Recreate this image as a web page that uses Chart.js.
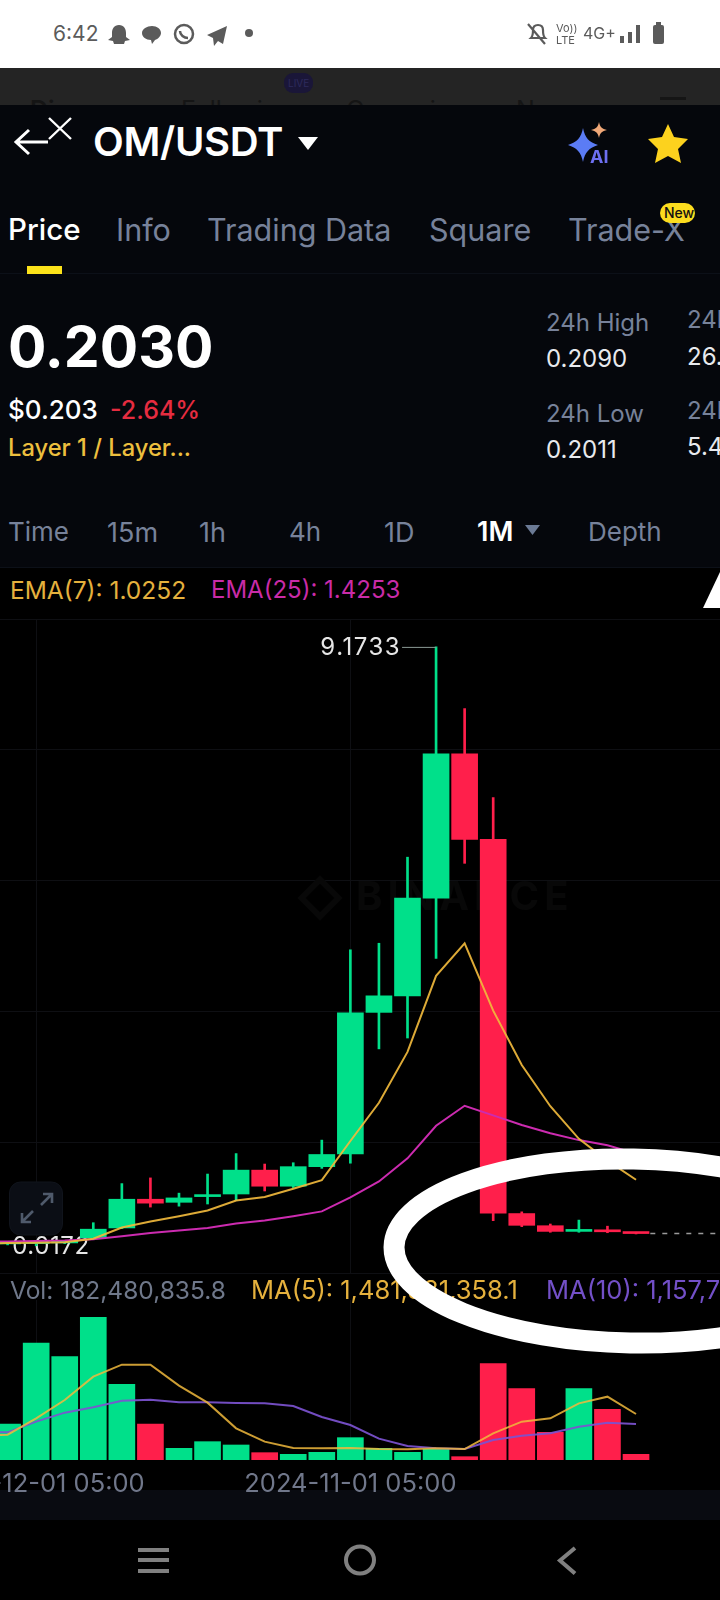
<!DOCTYPE html>
<html>
<head>
<meta charset="utf-8">
<title>OM/USDT</title>
<script src="https://cdn.jsdelivr.net/npm/chart.js@4"></script>
<style>
html, body { margin: 0; padding: 0; background: #000; }
#page { position: relative; width: 720px; height: 1600px; overflow: hidden; background: #000; font-family: Inter, sans-serif; }
.box { position: absolute; left: 0; width: 720px; }
.t { position: absolute; white-space: nowrap; transform: translateY(-50%); line-height: 1; }
.gray { color: #77829a; }
canvas { position: absolute; left: 0; display: block; }
svg { position: absolute; left: 0; top: 0; }
</style>
</head>
<body>
<div id="page">
  <div class="box" style="top:0;height:68px;background:#fff"></div>
  <div class="box" style="top:68px;height:37px;background:#242424;overflow:hidden">
    <span class="t" style="left:30px;top:42px;font-size:25px;color:#151515;font-weight:600">Discover</span>
    <span class="t" style="left:181px;top:42px;font-size:25px;color:#151515">Following</span>
    <span class="t" style="left:346px;top:42px;font-size:25px;color:#151515">Campaign</span>
    <span class="t" style="left:516px;top:42px;font-size:25px;color:#151515">News</span>
    <span class="t" style="left:284px;top:15px;font-size:10px;padding:5px 4px;border-radius:9px;background:#1a1638;color:#2d2a5c">LIVE</span>
    <div style="position:absolute;left:660px;top:29px;width:26px;height:3px;background:#151515"></div>
  </div>
  <div class="box" style="top:105px;height:463px;background:#05070c"></div>
  <div class="box" style="top:273px;height:1px;background:#0c1018"></div>
  <div class="box" style="top:567px;height:1px;background:#0c1018"></div>
  <div class="box" style="top:1490px;height:30px;background:#090b11"></div>

  <span class="t" style="left:53px;top:33px;font-size:21px;color:#5b5b5b">6:42</span>

  <span class="t" style="left:93px;top:142px;font-size:40px;font-weight:600;color:#fff;letter-spacing:-.3px">OM/USDT</span>

  <span class="t" style="left:8px;top:230px;font-size:29.5px;color:#fff;font-weight:500">Price</span>
  <span class="t gray" style="left:116px;top:230px;font-size:30.5px">Info</span>
  <span class="t gray" style="left:207px;top:230px;font-size:30.5px">Trading Data</span>
  <span class="t gray" style="left:429px;top:230px;font-size:30.5px">Square</span>
  <span class="t gray" style="left:568px;top:230px;font-size:30.5px">Trade-X</span>
  <div style="position:absolute;left:660px;top:203px;width:35px;height:20px;border-radius:10px;background:#fcdc1e"></div>
  <span class="t" style="left:664px;top:213px;font-size:14px;color:#111;font-weight:500">New</span>
  <div style="position:absolute;left:27px;top:266px;width:35px;height:8px;background:#fce21a"></div>

  <span class="t" style="left:8px;top:346px;font-size:57px;font-weight:700;color:#fff">0.2030</span>
  <span class="t" style="left:8px;top:410px;font-size:26px;color:#fff;font-weight:500">$0.203</span>
  <span class="t" style="left:110px;top:410px;font-size:25px;color:#e62c40;font-weight:500">-2.64%</span>
  <span class="t" style="left:8px;top:448px;font-size:23.7px;color:#edbf3e;font-weight:500">Layer 1 / Layer...</span>

  <span class="t gray" style="left:546px;top:323px;font-size:24px">24h High</span>
  <span class="t" style="left:546px;top:359px;font-size:24px;color:#e8eaee">0.2090</span>
  <span class="t gray" style="left:546px;top:414px;font-size:24px">24h Low</span>
  <span class="t" style="left:546px;top:450px;font-size:24px;color:#e8eaee">0.2011</span>
  <span class="t gray" style="left:687px;top:320px;font-size:24px">24h</span>
  <span class="t" style="left:687px;top:357px;font-size:24px;color:#e8eaee">26.</span>
  <span class="t gray" style="left:687px;top:411px;font-size:24px">24h</span>
  <span class="t" style="left:687px;top:447px;font-size:24px;color:#e8eaee">5.4</span>

  <span class="t gray" style="left:8px;top:532px;font-size:26px">Time</span>
  <span class="t gray" style="left:107px;top:532px;font-size:27px">15m</span>
  <span class="t gray" style="left:199px;top:532px;font-size:27px">1h</span>
  <span class="t gray" style="left:289px;top:532px;font-size:26px">4h</span>
  <span class="t gray" style="left:384px;top:532px;font-size:27px">1D</span>
  <span class="t" style="left:477px;top:531px;font-size:27px;color:#fff;font-weight:600">1M</span>
  <span class="t gray" style="left:588px;top:532px;font-size:26px">Depth</span>

  <canvas id="priceChart" width="720" height="674" style="top:609px"></canvas>
  <canvas id="volChart" width="820" height="200" style="top:1300px;left:-100px"></canvas>

  <span class="t" style="left:10px;top:590px;font-size:24.5px;color:#e5b13d">EMA(7): 1.0252</span>
  <span class="t" style="left:211px;top:590px;font-size:24px;color:#c92ba8">EMA(25): 1.4253</span>
  <span class="t" style="left:10px;top:1290px;font-size:24.5px;color:#6f788a">Vol: 182,480,835.8</span>
  <span class="t" style="left:251px;top:1290px;font-size:25.5px;color:#e5b13d">MA(5): 1,481,381,358.1</span>
  <span class="t" style="left:546px;top:1290px;font-size:25.5px;color:#7350c8">MA(10): 1,157,7</span>

  <svg width="720" height="1600" viewBox="0 0 720 1600" fill="none">
    <!-- status bar icons -->
    <g fill="#5b5b5b">
      <path d="M119 25c-5 0-7 4-7 8v4l-4 3 5 1 1 3h10l1-3 5-1-4-3v-4c0-4-2-8-7-8z"/>
      <path d="M152 26c5 0 9 3 9 7 0 3-3 6-6 7l-3 4-1-4c-5 0-9-3-9-7s5-7 10-7z"/>
      <path d="M227 26l-20 9 6 3 1 8 4-5 5 3z"/>
      <circle cx="249" cy="33" r="4"/>
      <rect x="653" y="25" width="11" height="19" rx="2"/>
      <rect x="656" y="22" width="5" height="3"/>
      <rect x="620" y="36" width="4" height="7"/>
      <rect x="628" y="32" width="4" height="11"/>
      <rect x="636" y="25" width="4" height="18"/>
    </g>
    <circle cx="184" cy="34" r="9" stroke="#5b5b5b" stroke-width="2.5"/>
    <path d="M180 31c0 4 4 7 8 7" stroke="#5b5b5b" stroke-width="2.5"/>
    <path d="M531 38c2-2 2-4 2-8 0-3 2-5 5-5s5 2 5 5c0 4 0 6 2 8zM528 24l17 20" stroke="#5b5b5b" stroke-width="2.2"/>
    <text x="556" y="32" font-family="Inter" font-size="11" fill="#5b5b5b">Vo))</text>
    <text x="556" y="44" font-family="Inter" font-size="11" fill="#5b5b5b">LTE</text>
    <text x="583" y="39" font-family="Inter" font-size="16" fill="#5b5b5b">4G+</text>
    <!-- app bar icons -->
    <path d="M48 142H17M29 130L16 142l13 12" stroke="#fff" stroke-width="3"/>
    <path d="M49 118l22 21M71 118L49 139" stroke="#fff" stroke-width="2.4"/>
    <path d="M298 137h20l-10 13z" fill="#fff"/>
    <path d="M583 128c2 10 6 14 15 17-9 3-13 7-15 17-2-10-6-14-15-17 9-3 13-7 15-17z" fill="#5b7cf5"/>
    <path d="M599 122c1 5 3 7 8 8-5 1-7 3-8 8-1-5-3-7-8-8 5-1 7-3 8-8z" fill="#f0a878"/>
    <text x="590" y="163" font-family="Inter" font-size="18" font-weight="700" fill="#6d6ff0">AI</text>
    <path d="M668 124l6 13 14 2-10 10 3 14-13-7-13 7 3-14-10-10 14-2z" fill="#fcd21e"/>
    <path d="M525 525h15l-7.500 10z" fill="#6b7a95"/>
    <path d="M703 608l17-36v36z" fill="#fff"/>
    <!-- expand button -->
    <rect x="9.500" y="1182" width="53" height="53" rx="11" fill="#0b0e15" stroke="#10141c"/>
    <path d="M43 1194h9v9M52 1194l-11 11M31 1222h-9v-9M22 1222l11-11" stroke="#4f5a6b" stroke-width="2.6"/>
    <!-- hand drawn ring -->
    <ellipse cx="632" cy="1251" rx="238" ry="92" stroke="#fff" stroke-width="21" transform="rotate(1 632 1251)"/>
    <!-- nav bar -->
    <path d="M138 1550h31M138 1560h31M138 1571h31" stroke="#808080" stroke-width="4"/>
    <ellipse cx="360" cy="1560" rx="14" ry="13.500" stroke="#808080" stroke-width="4"/>
    <path d="M575 1548l-15 12.500 15 13" stroke="#808080" stroke-width="4"/>
  </svg>
</div>

<script>
var months = ["2023-10-01","2023-11-01","2023-12-01","2024-01-01","2024-02-01","2024-03-01","2024-04-01","2024-05-01",
  "2024-06-01","2024-07-01","2024-08-01","2024-09-01","2024-10-01","2024-11-01","2024-12-01","2025-01-01","2025-02-01",
  "2025-03-01","2025-04-01","2025-05-01","2025-06-01","2025-07-01","2025-08-01","2025-09-01"];
var opens  = [.04,.045,.05,.06,.137,.289,.728,.681,.768,.808,1.173,.927,1.226,1.419,3.585,3.838,5.333,7.539,6.23,.509,.323,.236,.256,.216];
var closes = [.045,.05,.06,.07,.27,.728,.668,.748,.794,1.173,.927,1.226,1.412,3.579,3.838,5.333,7.539,6.23,.515,.329,.236,.263,.23,.203];
var highs  = [.05,.055,.065,.075,.369,.967,1.054,.821,1.113,1.426,1.266,1.286,1.632,4.542,4.642,5.958,9.1733,8.23,6.868,.535,.349,.409,.316,.223];
var lows   = [.035,.03,.0172,.05,.137,.28,.608,.622,.655,.708,.854,.907,1.2,1.279,3.027,3.193,4.409,5.864,.402,.309,.223,.223,.216,.197];
var ema7   = [.05,.057,.063,.07,.123,.296,.389,.469,.555,.708,.761,.887,1.02,1.618,2.203,2.981,4.143,4.642,3.612,2.781,2.15,1.652,1.319,1.0252];
var ema25  = [.083,.083,.09,.097,.117,.163,.21,.25,.289,.356,.402,.469,.542,.755,1,1.353,1.851,2.157,2.01,1.864,1.738,1.632,1.552,1.4253];
// volumes in millions of OM
var volumes = [800,1159,3766,3326,4592,2436,1159,376,590,483,236,182,247,719,376,247,343,107,3101,2296,891,2296,1631,182.48];
var ma5  = [780,815,1341,1931,2683,3069,3069,2393,1846,1019,590,386,376,386,354,343,376,354,858,1234,1341,1824,2039,1481];
var ma10 = [900,891,1234,1524,1695,1910,1942,1856,1856,1835,1824,1738,1384,1127,687,451,376,354,644,783,858,1073,1202,1157];
var priceTicks = [-0.4,1.6,3.6,5.6,7.6,9.6];
var timeTicks = [2,13];

var GREEN = "#00e08a";
var RED = "#ff1f4b";
var GRID = "#0e0f13";

function xy(values) {
  return values.map((v, i) => ({x: i, y: v}));
}
function range(a, b) {
  return a.map((v, i) => ({x: i, y: [v, b[i]]}));
}
var candleColors = closes.map((c, i) => c >= opens[i] ? GREEN : RED);

function xAxis(min, showLabels) {
  return {
    type: "linear",
    min: min,
    max: 25.94,
    offset: false,
    bounds: "data",
    grid: {color: GRID, offset: false, drawTicks: false},
    border: {display: false},
    afterBuildTicks: (s) => { s.ticks = timeTicks.map((v) => ({value: v})); },
    afterFit: (s) => {
      if (showLabels) s.height = 40;
    },
    ticks: {
      display: showLabels,
      autoSkip: false,
      maxRotation: 0,
      padding: 9,
      color: "#70778a",
      font: {family: "Inter", size: 25.5},
      callback: (v) => months[v] + " 05:00",
    },
  };
}

// high / low labels of the visible range
var priceLabels = {
  id: "priceLabels",
  beforeDatasetsDraw(chart) {
    var ctx = chart.ctx, x = chart.scales.x, y = chart.scales.y;
    var low = lows.indexOf(Math.min.apply(null, lows));
    ctx.save();
    // faint watermark
    ctx.fillStyle = "#080808";
    ctx.font = "700 40px Inter";
    ctx.textBaseline = "middle";
    ctx.letterSpacing = "5px";
    ctx.fillText("BINANCE", 356, 289);
    ctx.translate(320, 289);
    ctx.rotate(Math.PI / 4);
    ctx.strokeStyle = "#080808";
    ctx.lineWidth = 6;
    ctx.strokeRect(-13, -13, 26, 26);
    ctx.restore();
    ctx.save();
    ctx.fillStyle = "#e6e6e6";
    ctx.font = "24px Inter";
    ctx.textBaseline = "middle";
    ctx.letterSpacing = "0.6px";
    ctx.fillText(lows[low].toFixed(4), x.getPixelForValue(low) - 24, y.getPixelForValue(lows[low]) + 1);
    ctx.restore();
  },
  afterDatasetsDraw(chart) {
    var ctx = chart.ctx, x = chart.scales.x, y = chart.scales.y;
    var high = highs.indexOf(Math.max.apply(null, highs));
    var px = x.getPixelForValue(high), py = y.getPixelForValue(highs[high]);
    ctx.save();
    ctx.strokeStyle = "#8a9a94";
    ctx.lineWidth = 1;
    ctx.beginPath();
    ctx.moveTo(px - 34, py + 0.5);
    ctx.lineTo(px, py + 0.5);
    ctx.stroke();
    ctx.fillStyle = "#e6e6e6";
    ctx.font = "24px Inter";
    ctx.letterSpacing = "1.5px";
    ctx.textAlign = "right";
    ctx.textBaseline = "middle";
    ctx.fillText(highs[high].toFixed(4), px - 35, py + 1);
    ctx.restore();
  },
};

new Chart(document.getElementById("priceChart"), {
  type: "bar",
  data: {
    datasets: [
      {type: "line", data: xy(ema7), borderColor: "rgba(240,185,60,0.92)", borderWidth: 2, pointRadius: 0, tension: 0, order: 0},
      {type: "line", data: xy(ema25), borderColor: "#cc2bb0", borderWidth: 2, pointRadius: 0, tension: 0, order: 0},
      {type: "line", data: [{x: 23.5, y: closes[23]}, {x: 26, y: closes[23]}], borderColor: "#9a9a9a", borderWidth: 1.5, borderDash: [5, 7], pointRadius: 0, order: 0},
      {data: range(opens, closes), backgroundColor: candleColors, barThickness: 26, minBarLength: 2, grouped: false, order: 1},
      {data: range(lows, highs), backgroundColor: candleColors, barThickness: 2, grouped: false, order: 2},
    ],
  },
  options: {
    responsive: false,
    animation: false,
    layout: {padding: {top: 10, bottom: 10, left: 0, right: 0}},
    plugins: {legend: {display: false}, tooltip: {enabled: false}},
    scales: {
      x: xAxis(0.734, false),
      y: {
        min: -0.4,
        max: 9.6,
        bounds: "data",
        grid: {color: GRID, drawTicks: false},
        border: {display: false},
        afterBuildTicks: (s) => { s.ticks = priceTicks.map((v) => ({value: v})); },
        ticks: {display: false},
      },
    },
  },
  plugins: [priceLabels],
});

// canvas starts 100px left of the page so the first time label can hang off the edge
new Chart(document.getElementById("volChart"), {
  type: "bar",
  data: {
    datasets: [
      {type: "line", data: xy(ma5), borderColor: "rgba(240,185,60,0.85)", borderWidth: 2, pointRadius: 0, tension: 0, order: 0},
      {type: "line", data: xy(ma10), borderColor: "rgba(124,82,208,0.92)", borderWidth: 2, pointRadius: 0, tension: 0, order: 0},
      {data: xy(volumes), backgroundColor: candleColors, barThickness: 26, grouped: false, order: 1},
    ],
  },
  options: {
    responsive: false,
    animation: false,
    layout: {padding: 0},
    plugins: {legend: {display: false}, tooltip: {enabled: false}},
    scales: {
      x: xAxis(-2.767, true),
      y: {
        min: 0,
        max: 5150,
        bounds: "data",
        grid: {display: false, drawTicks: false},
        border: {display: false},
        ticks: {display: false},
      },
    },
  },
});
</script>
</body>
</html>
